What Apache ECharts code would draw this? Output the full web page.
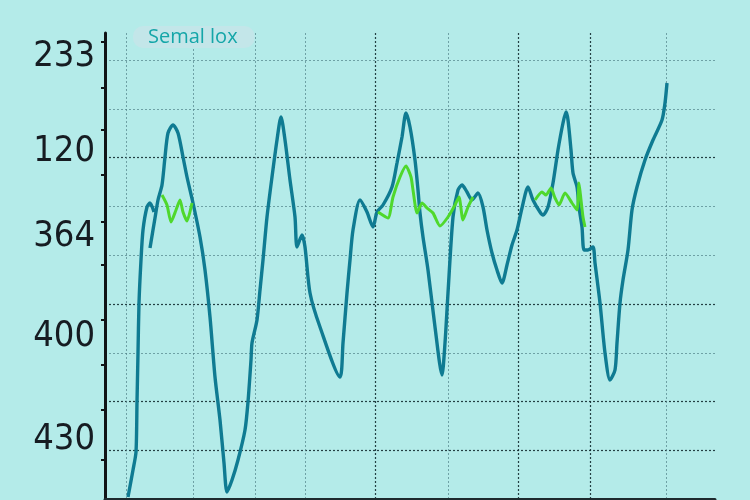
<!DOCTYPE html>
<html>
<head>
<meta charset="utf-8">
<script src="https://cdn.jsdelivr.net/npm/echarts@6/dist/echarts.min.js"></script>
<style>
html,body{margin:0;padding:0;background:#b4ebe9;}
#chart{width:750px;height:500px;}
</style>
</head>
<body>
<div id="chart"></div>
<script>
// ---- data ----
const seriesName = 'Semal lox';
const tealLine = [
  [23,2],[28,29],[31,47],[32,97],[33,146],[34,196],[36,239],[38,269],[42,292],[45,296],[49,287],
  null,
  [45,251],[50,281],[53,299],[57,314],[60,342],[63,366],[68,374],[73,366],[78,342],[82,322],[88,296],
  [95,262],[100,229],[105,182],[110,122],[115,79],[119,36],[122,7],[127,19],[133,39],[140,69],[143,97],
  [146,139],[147,156],[152,179],[155,209],[158,239],[162,282],[167,322],[172,359],[176,382],[180,359],
  [185,319],[190,282],[192,252],[197,264],[200,252],[205,206],[215,172],[235,122],[238,156],[242,206],
  [245,239],[248,269],[255,299],[262,287],[268,272],[272,287],[278,294],[287,312],[292,336],[297,362],
  [301,386],[305,372],[310,339],[313,309],[315,286],[318,262],[323,229],[330,172],[337,124],[340,156],
  [343,206],[348,282],[353,309],[357,314],[362,307],[367,299],[373,306],[378,292],[382,269],[387,246],
  [392,229],[397,216],[402,234],[407,254],[412,269],[417,291],[423,312],[428,299],[435,287],[438,284],
  [443,292],[448,316],[453,349],[458,376],[461,387],[463,379],[466,349],[468,326],[472,312],[474,292],
  [477,272],[479,249],[483,249],[488,252],[490,236],[495,196],[500,146],[505,119],[510,129],[512,156],
  [515,196],[518,219],[523,249],[527,289],[532,312],[540,339],[548,359],[557,379],[560,396],[562,416]
];
const greenLine = [
  [57,304],[62,294],[66,277],[71,289],[75,299],[78,287],[82,278],[87,296],
  null,
  [273,287],[283,281],[288,302],[295,322],[301,333],[306,322],[308,309],[312,286],[317,296],[322,291],
  [328,286],[335,273],[343,282],[350,294],[354,302],[358,279],[363,292],[368,302],
  null,
  [430,299],[437,307],[441,304],[446,311],[450,301],[454,294],[460,306],[467,296],[472,289],[474,316],
  [476,299],[478,282],[480,272]
];
const yLabelValues = [442, 347, 262, 162, 59];
const yLabelTexts = ['233', '120', '364', '400', '430'];
const yTickValues = [457, 411, 369, 324, 277, 234, 179, 134, 89, 39];
const yGridLight = [146, 244, 293, 390, 439];
const yGridDark = [49, 98, 195, 342];
const xGridLight = [21, 88, 150, 200, 343, 561];
const xGridDark = [270, 413, 485];
const xMax = 610, yMax = 466;

const chart = echarts.init(document.getElementById('chart'), null, {renderer: 'canvas'});

function hiddenAxis(extra) {
  return Object.assign({
    type: 'value', min: 0, axisLine: {show: false}, axisLabel: {show: false}
  }, extra);
}
const lightSplit = {show: true,
  lineStyle: {color: 'rgba(80,130,135,0.7)', type: [2, 2], width: 1}};
const darkSplit = {show: true,
  lineStyle: {color: 'rgba(20,45,50,0.9)', type: [2, 2], width: 1.2}};

chart.setOption({
  backgroundColor: '#b4ebe9',
  animation: false,
  legend: {
    data: [{name: seriesName, icon: 'none'}],
    left: 133, top: 26,
    itemWidth: 0, itemHeight: 0,
    backgroundColor: '#c3e6e9',
    borderRadius: 10,
    padding: [1, 17, 1, 10],
    textStyle: {color: '#14a6a8', fontSize: 20, lineHeight: 20, fontFamily: 'Open Sans'}
  },
  grid: {left: 105, right: 35, top: 33, bottom: 1, containLabel: false, outerBoundsMode: 'none'},
  xAxis: [
    {type: 'value', min: 0, max: xMax,
      axisLine: {show: true, onZero: false, lineStyle: {color: '#1d2a2e', width: 3}},
      axisTick: {show: false}, axisLabel: {show: false}, splitLine: {show: false}},
    hiddenAxis({max: xMax, position: 'bottom', axisTick: {show: false, customValues: xGridLight}, splitLine: lightSplit}),
    hiddenAxis({max: xMax, position: 'bottom', axisTick: {show: false, customValues: xGridDark}, splitLine: darkSplit})
  ],
  yAxis: [
    {type: 'value', min: 0, max: yMax,
      axisLine: {show: true, onZero: false, lineStyle: {color: '#111417', width: 3}},
      axisTick: {show: true, length: 4, customValues: yTickValues, lineStyle: {color: '#111417', width: 2}},
      axisLabel: {show: true, customValues: yLabelValues, margin: 10,
        color: '#161c22', fontSize: 36, fontFamily: '"DejaVu Sans Condensed", "Liberation Sans", sans-serif',
        formatter: function (v) {
          const i = yLabelValues.indexOf(v);
          return i >= 0 ? yLabelTexts[i] : '';
        }},
      splitLine: {show: false}},
    hiddenAxis({max: yMax, position: 'left', axisTick: {show: false, customValues: yGridLight}, splitLine: lightSplit}),
    hiddenAxis({max: yMax, position: 'left', axisTick: {show: false, customValues: yGridDark}, splitLine: darkSplit})
  ],
  series: [
    {name: seriesName, type: 'line', data: tealLine, xAxisIndex: 0, yAxisIndex: 0,
      showSymbol: false, smooth: 0.25, connectNulls: false, z: 3,
      lineStyle: {color: '#0f7b92', width: 3.4}, itemStyle: {color: '#0f7b92'}},
    {name: 'green', type: 'line', data: greenLine, xAxisIndex: 0, yAxisIndex: 0,
      showSymbol: false, smooth: 0.2, connectNulls: false, z: 4,
      lineStyle: {color: '#4fd82c', width: 3}, itemStyle: {color: '#4fd82c'}}
  ]
});
</script>
</body>
</html>
